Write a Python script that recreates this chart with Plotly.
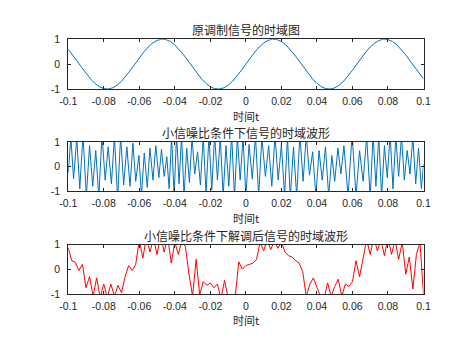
import plotly.graph_objects as go

# ---------------- data ----------------
# original modulating signal, sampled every 0.0025 s from -0.1 to 0.1
t_orig = [round(-0.1 + 0.0025 * k, 4) for k in range(81)]
y_orig = [0.588, 0.368, 0.125, -0.125, -0.368, -0.588, -0.771, -0.905, -0.982, -0.998,
          -0.951, -0.844, -0.685, -0.482, -0.249, 0.0, 0.249, 0.482, 0.685, 0.844,
          0.951, 0.998, 0.982, 0.905, 0.771,
          0.588, 0.368, 0.125, -0.125, -0.368, -0.588, -0.771, -0.905, -0.982, -0.998,
          -0.951, -0.844, -0.685, -0.482, -0.249, 0.0, 0.249, 0.482, 0.685, 0.844,
          0.951, 0.998, 0.982, 0.905, 0.771,
          0.588, 0.368, 0.125, -0.125, -0.368, -0.588, -0.771, -0.905, -0.982, -0.998,
          -0.951, -0.844, -0.685, -0.482, -0.249, 0.0, 0.249, 0.482, 0.685, 0.844,
          0.951, 0.998, 0.982, 0.905, 0.771,
          0.588, 0.368, 0.125, -0.125, -0.368, -0.588]

# noisy received signal (extrema)
t_noisy = [-0.1000, -0.0985, -0.0970, -0.0952, -0.0935, -0.0917, -0.0898, -0.0880, -0.0862, -0.0845,
           -0.0828, -0.0810, -0.0792, -0.0775, -0.0757, -0.0740, -0.0722, -0.0705, -0.0688, -0.0670,
           -0.0652, -0.0636, -0.0620, -0.0602, -0.0588, -0.0572, -0.0555, -0.0540, -0.0523, -0.0507,
           -0.0490, -0.0475, -0.0460, -0.0445, -0.0432, -0.0418, -0.0404, -0.0390, -0.0376, -0.0362,
           -0.0348, -0.0333, -0.0318, -0.0303, -0.0288, -0.0272, -0.0256, -0.0240, -0.0224, -0.0208,
           -0.0192, -0.0176, -0.0160, -0.0144, -0.0128, -0.0112, -0.0096, -0.0080, -0.0064, -0.0048,
           -0.0032, -0.0016, 0.0000, 0.0018, 0.0036, 0.0054, 0.0072, 0.0090, 0.0110, 0.0128,
           0.0146, 0.0164, 0.0182, 0.0200, 0.0218, 0.0234, 0.0250, 0.0268, 0.0286, 0.0304,
           0.0322, 0.0340, 0.0358, 0.0376, 0.0394, 0.0412, 0.0430, 0.0448, 0.0466, 0.0484,
           0.0500, 0.0518, 0.0535, 0.0552, 0.0575, 0.0598, 0.0620, 0.0640, 0.0660, 0.0680,
           0.0700, 0.0716, 0.0732, 0.0748, 0.0764, 0.0780, 0.0796, 0.0812, 0.0828, 0.0844,
           0.0860, 0.0876, 0.0892, 0.0908, 0.0924, 0.0940, 0.0956, 0.0972, 0.0988, 0.1000]
y_noisy = [-0.25, 1.2, -0.5, 1.15, -0.9, 1.3, -1.2, 0.85, -0.8, 0.65,
           -1.25, 1.3, -0.55, 0.8, -0.7, 1.2, -1.3, 1.25, -0.75, 0.8,
           -0.8, 0.95, -0.6, 0.45, -1.2, 0.55, -0.85, 0.75, -0.55, 0.85,
           -0.45, 0.7, -0.4, 0.4, -0.9, 1.2, -1.2, 1.3, -0.7, 1.25,
           -1.2, 0.75, -0.65, 1.2, -0.3, 0.6, -0.75, 1.2, -1.1, 1.25,
           -0.95, 1.3, -0.55, 1.2, -1.2, 0.85, -0.8, 1.3, -1.25, 1.2,
           -0.55, 1.2, -1.2, 0.9, -0.5, 1.25, -1.2, 1.2, -0.4, 0.85,
           -0.8, 1.25, -0.55, 0.9, -1.2, 1.2, -1.25, 0.8, -1.2, 1.3,
           -0.6, 1.25, -0.35, 0.6, -1.2, 0.65, -0.55, 0.8, -1.2, 0.45,
           -0.6, 0.75, -0.3, 0.85, -1.2, 1.3, -1.2, 0.65, -0.6, 1.2,
           -1.25, 1.3, -0.8, 1.25, -1.2, 0.85, -0.45, 1.3, -0.9, 1.2,
           -0.4, 1.25, -0.55, 0.65, -0.3, 1.2, -0.7, 0.75, -0.9, 0.1]

# demodulated signal, sampled every 0.002 s
t_demod = [round(-0.1 + 0.002 * k, 3) for k in range(101)]
y_demod = [0.88, 0.35, 0.28, -0.05, 0.2, -0.75, -0.3, -1.1, -0.35, -1.15,
           -0.6, -1.15, -0.6, -1.1, -0.65, -0.95, -0.3, 0.15, -0.05, 0.2,
           1.2, 0.45, 1.3, 0.7, 1.25, 0.6, 1.4, 0.7, 1.3, 0.25,
           1.1, 0.6, 1.2, 0.9, -0.2, -1.1, 0.4, -1.05, -0.5, -0.65,
           -0.55, -0.75, -0.6, -1.2, -0.45, -1.15, -1.2, -1.1, 0.3, 0.0,
           0.15, 0.2, 0.25, 0.4, 1.1, 0.75, 1.2, 0.8, 1.15, 0.85,
           1.1, 0.7, 0.55, 0.5, 0.35, 0.25, -0.1, -1.1, -0.6, -0.35,
           -0.75, -1.1, -1.2, -0.55, -1.1, -0.7, -0.4, -1.1, -0.6, -0.7,
           -0.5, 0.35, -0.3, 0.4, 1.2, 0.6, 1.3, 0.75, 1.2, 0.55,
           1.3, 0.6, 1.2, 0.4, 1.1, -0.2, 0.5, -0.8, 0.6, 1.1,
           -1.05]

titles = ["原调制信号的时域图", "小信噪比条件下信号的时域波形", "小信噪比条件下解调后信号的时域波形"]
xlabel = "时间t"
xtick_vals = [-0.1, -0.08, -0.06, -0.04, -0.02, 0, 0.02, 0.04, 0.06, 0.08, 0.1]
xtick_text = ["-0.1", "-0.08", "-0.06", "-0.04", "-0.02", "0", "0.02", "0.04", "0.06", "0.08", "0.1"]
ytick_vals = [-1, 0, 1]
ytick_text = ["-1", "0", "1"]

# ---------------- figure ----------------
W, H = 474, 355
x0, x1 = 61.3 / W, 429.0 / W
axes_px = [(34.3, 86.0), (140.7, 191.7), (247.0, 298.0)]  # top, bottom in pixels

fig = go.Figure()
series = [(t_orig, y_orig, "#0072BD"), (t_noisy, y_noisy, "#0072BD"), (t_demod, y_demod, "#FF0000")]
CJK = "Noto Sans CJK SC"
NUM = "Liberation Sans, Arial, sans-serif"
axcol = "#262626"

for i, ((tx, ty, col), (ptop, pbot)) in enumerate(zip(series, axes_px)):
    n = "" if i == 0 else str(i + 1)
    fig.add_trace(go.Scatter(x=tx, y=ty, mode="lines", line=dict(color=col, width=1),
                             xaxis="x" + n, yaxis="y" + n, showlegend=False, hoverinfo="skip"))
    common = dict(showline=True, linecolor=axcol, linewidth=1, mirror="ticks", ticks="inside",
                  ticklen=3, tickwidth=1, tickcolor=axcol, showgrid=False, zeroline=False,
                  tickfont=dict(family=NUM, size=10.5, color=axcol))
    fig.update_layout(**{
        "xaxis" + n: dict(domain=[x0, x1], range=[-0.1, 0.1], tickvals=xtick_vals, ticktext=xtick_text,
                          anchor="y" + n, ticklabelstandoff=2, **common),
        "yaxis" + n: dict(domain=[1 - pbot / H, 1 - ptop / H], range=[-1, 1], tickvals=ytick_vals,
                          ticktext=ytick_text, anchor="x" + n, ticklabelstandoff=5, **common),
    })
    xc = (x0 + x1) / 2
    fig.add_annotation(text=titles[i], x=xc, y=1 - (ptop - 9.5) / H, xref="paper", yref="paper",
                       showarrow=False, xanchor="center", yanchor="middle",
                       font=dict(family=CJK, size=12, color=axcol))
    fig.add_annotation(text=xlabel, x=xc, y=1 - (pbot + 27.5) / H, xref="paper", yref="paper",
                       showarrow=False, xanchor="center", yanchor="middle",
                       font=dict(family=CJK, size=11, color=axcol))

fig.update_layout(width=W, height=H, margin=dict(l=0, r=0, t=0, b=0),
                  paper_bgcolor="white", plot_bgcolor="white", showlegend=False)

fig.write_html("out.html", config={"displayModeBar": False},
               post_script="document.body.style.margin='0px';")
